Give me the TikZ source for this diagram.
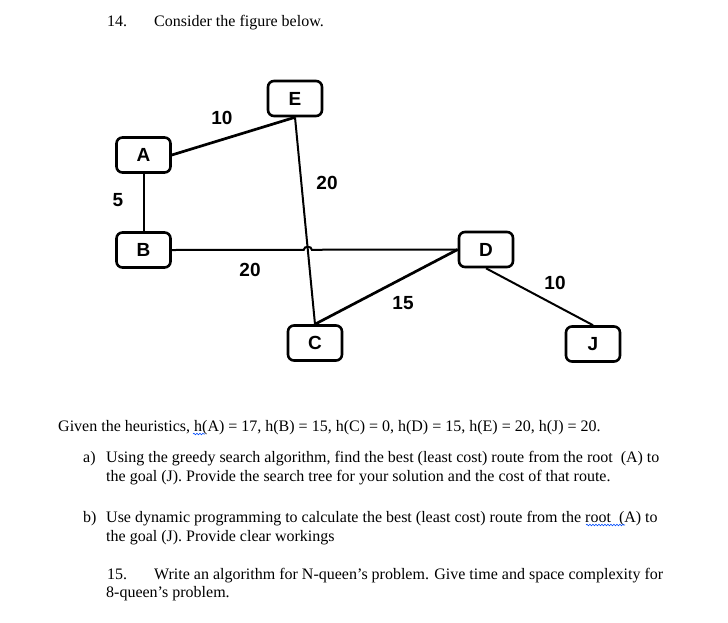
\documentclass[tikz,border=0pt]{standalone}
\usepackage{fontspec}
\setmainfont{Liberation Serif}
\newfontfamily\labelfont{Liberation Sans}
\usetikzlibrary{decorations.pathmorphing}
\begin{document}
\begin{tikzpicture}[x=1pt,y=-1pt,
 vbox/.style={draw, line width=2.6pt, rounded corners=6pt, minimum width=54pt, minimum height=35pt, inner sep=0pt, font=\labelfont\bfseries\fontsize{19}{19}\selectfont},
 elabel/.style={font=\labelfont\bfseries\fontsize{19}{19}\selectfont, inner sep=0pt},
 edgeline/.style={line width=2pt},
 thickedge/.style={line width=2.7pt},
 body/.style={anchor=base west, inner sep=0pt, font=\fontsize{16}{19}\selectfont},
 wavy/.style={draw=blue!70!cyan, line width=0.6pt, decorate, decoration={snake, amplitude=0.8pt, segment length=3pt}}]
\useasboundingbox (0,0) rectangle (728,622);

% graph nodes
\node[vbox] (A) at (143.5,155) {A};
\node[vbox] (B) at (143.5,250) {B};
\node[vbox] (E) at (295,98.5) {E};
\node[vbox] (D) at (486,249.5) {D};
\node[vbox] (C) at (315,343) {C};
\node[vbox] (J) at (593,344) {J};

% connectors
\draw[thickedge] (A.east) -- (E.south);
\draw[edgeline] (A.south) -- (B.north);
\draw[edgeline] (E.south) -- (C.north);
\coordinate (hop) at (intersection of B.east--D.west and E.south--C.north);
\draw[edgeline] (B.east) -- ([xshift=-4pt]hop) .. controls +(0,-4) and +(0,-4) .. ([xshift=4pt]hop) -- (D.west);
\draw[thickedge] (C.north) -- (D.west);
\draw[edgeline] (D.south) -- (J.north);

% edge labels
\node[elabel] (lAE) at (222,118) {10};
\node[elabel] (lAB) at (118,200) {5};
\node[elabel] (lEC) at (327,183) {20};
\node[elabel] (lBD) at (250,270) {20};
\node[elabel] (lCD) at (403,303) {15};
\node[elabel] (lDJ) at (555,283) {10};

% text
\node[body] (t14) at (107,26) {14.};
\node[body] (t14b) at (154,26) {Consider the figure below.};
\node[body] (tg) at (58,431) {Given the heuristics, h(A) = 17, h(B) = 15, h(C) = 0, h(D) = 15, h(E) = 20, h(J) = 20.};
\node[body] (ta) at (83,462) {a)};
\node[body] (ta1) at (106,462) {Using the greedy search algorithm, find the best (least cost) route from the root\ \ (A) to};
\node[body] (ta2) at (106,481) {the goal (J). Provide the search tree for your solution and the cost of that route.};
\node[body] (tb) at (83,522) {b)};
\node[body] (tb1) at (106,522) {Use dynamic programming to calculate the best (least cost) route from the root\ \ (A) to};
\node[body] (tb2) at (106,541) {the goal (J). Provide clear workings};
\node[body] (t15) at (107,579) {15.};
\node[body] (t15b) at (154,579) {Write an algorithm for N-queen’s problem. Give time and space complexity for};
\node[body] (t15c) at (106,597) {8-queen’s problem.};

% spell-check underlines
\draw[wavy] (193,434) -- (205,434);
\draw[wavy] (586,525) -- (625,525);
\end{tikzpicture}
\end{document}
